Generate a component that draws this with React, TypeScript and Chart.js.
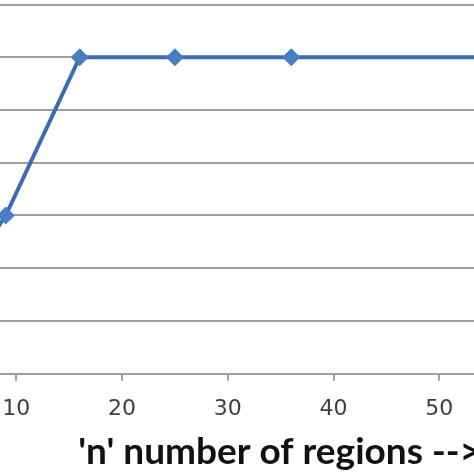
import React, { useEffect, useRef } from "react";
import { Chart, registerables } from "chart.js";

Chart.register(...registerables);

// n (number of regions) and measured value
const regionsN = [4, 9, 16, 25, 36, 64];
const values = [1.5, 3, 6, 6, 6, 6];
const xTickValues = [10, 20, 30, 40, 50];
const yTickValues = [0, 1, 2, 3, 4, 5, 6, 7];
const xTitle = "'n' number of regions -->";

export default function App() {
  const ref = useRef<HTMLCanvasElement>(null);

  useEffect(() => {
    const canvas = ref.current!;
    const titleFamily = "Lato";
    const titleSize = 37;
    const m = document.createElement("canvas").getContext("2d")!;
    m.font = `bold ${titleSize}px ${titleFamily}`;
    const tw = m.measureText(xTitle).width;
    const W = Math.round(2 * 78 + tw + 12);
    const H = 474;
    canvas.width = W;
    canvas.height = H;
    canvas.style.width = W + "px";
    canvas.style.height = H + "px";

    const pxPerUnit = 10.57;
    const xMin = 10 - 16.5 / pxPerUnit;
    let xMax = xMin + W / pxPerUnit;

    const grey = "#a0a0a0";

    const chart = new Chart(canvas, {
      type: "line",
      data: {
        datasets: [
          {
            data: regionsN.map((n, i) => ({ x: n, y: values[i] })),
            borderColor: "#3b6db6",
            backgroundColor: "#4a7cc3",
            pointBorderColor: "#4a7cc3",
            borderWidth: 4,
            pointStyle: "rectRot",
            pointRadius: 8.5,
            pointBorderWidth: 1,
            tension: 0,
          },
        ],
      },
      options: {
        responsive: false,
        animation: false,
        devicePixelRatio: 1,
        layout: { padding: 0 },
        plugins: { legend: { display: false }, tooltip: { enabled: false } },
        scales: {
          x: {
            type: "linear",
            min: xMin,
            max: xMax,
            afterBuildTicks: (s: any) => {
              s.ticks = xTickValues.map((v) => ({ value: v }));
            },
            ticks: {
              font: { family: "DejaVu Sans", size: 22 },
              color: "#404040",
              padding: 15,
              maxRotation: 0,
              autoSkip: false,
            },
            grid: {
              drawOnChartArea: false,
              drawTicks: true,
              tickLength: 7,
              color: grey,
              lineWidth: 2,
            },
            border: { color: grey, width: 2 },
            title: {
              display: true,
              text: xTitle,
              color: "#111111",
              font: { family: titleFamily, size: titleSize, weight: "bold" },
              padding: { top: -7, bottom: 0 },
            },
          },
          y: {
            min: 0,
            max: 7.076,
            afterBuildTicks: (s: any) => {
              s.ticks = yTickValues.map((v) => ({ value: v }));
            },
            ticks: { display: false },
            grid: { color: grey, lineWidth: 2, drawTicks: false },
            border: { display: false },
          },
        },
      },
    } as any);

    // shift so that the plot area starts at the visible top-left corner
    const L = chart.chartArea.left;
    const T = chart.chartArea.top;
    if (L > 0 || T > 0) {
      canvas.style.marginLeft = -L + "px";
      canvas.style.marginTop = -T + "px";
      chart.resize(W + L, H + T);
      xMax = xMin + (chart.chartArea.right - chart.chartArea.left) / pxPerUnit;
      (chart.options.scales as any).x.max = xMax;
      chart.update();
    }

    return () => chart.destroy();
  }, []);

  return (
    <div
      style={{
        position: "fixed",
        left: 0,
        top: 0,
        width: 474,
        height: 474,
        overflow: "hidden",
        background: "#ffffff",
      }}
    >
      <canvas ref={ref} style={{ display: "block" }} />
    </div>
  );
}
